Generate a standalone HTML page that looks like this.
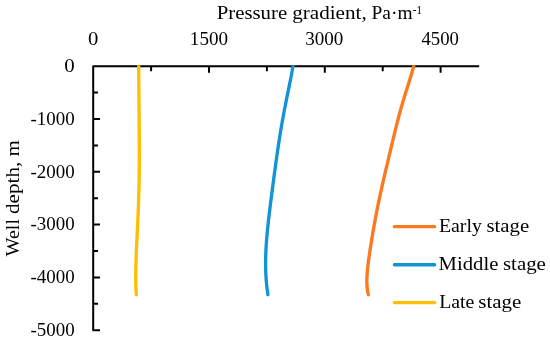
<!DOCTYPE html>
<html><head><meta charset="utf-8"><title>Pressure gradient chart</title>
<style>html,body{margin:0;padding:0;background:#fff;}body{width:550px;height:341px;overflow:hidden;}svg{display:block;}</style>
</head><body>
<svg width="550" height="341" viewBox="0 0 550 341">
<defs><clipPath id="pa"><rect x="80" y="65.2" width="460" height="276"/></clipPath></defs>
<path d="M479.20 66.30 H93.20 V330.20 H100.00 M151.10 66.20 V71.20 M209.00 66.20 V72.70 M266.90 66.20 V71.20 M324.80 66.20 V72.70 M382.70 66.20 V71.20 M440.60 66.20 V72.70 M93.20 92.60 H98.00 M93.20 119.00 H100.00 M93.20 145.40 H98.00 M93.20 171.80 H100.00 M93.20 198.20 H98.00 M93.20 224.60 H100.00 M93.20 251.00 H98.00 M93.20 277.40 H100.00 M93.20 303.80 H98.00" fill="none" stroke="#000" stroke-width="2.00" stroke-linecap="butt" stroke-linejoin="round"/>
<g clip-path="url(#pa)" fill="none" stroke-width="3.35" stroke-linecap="round" stroke-linejoin="round">
<path d="M138.67 62.00 C138.68 62.70 138.70 65.00 138.70 66.20 C138.71 67.40 138.72 68.20 138.73 69.20 C138.73 70.20 138.74 71.20 138.75 72.20 C138.75 73.20 138.76 74.20 138.77 75.20 C138.78 76.20 138.78 77.20 138.79 78.20 C138.80 79.20 138.80 80.20 138.81 81.20 C138.82 82.20 138.82 83.20 138.83 84.20 C138.84 85.20 138.84 86.20 138.85 87.20 C138.86 88.20 138.87 89.20 138.87 90.20 C138.88 91.20 138.89 92.20 138.90 93.20 C138.90 94.20 138.91 95.20 138.92 96.20 C138.93 97.20 138.94 98.20 138.94 99.20 C138.95 100.20 138.96 101.20 138.97 102.20 C138.98 103.20 138.99 104.20 139.00 105.20 C139.01 106.20 139.01 107.20 139.02 108.20 C139.03 109.20 139.04 110.20 139.05 111.20 C139.06 112.20 139.07 113.20 139.08 114.20 C139.09 115.20 139.10 116.20 139.11 117.20 C139.12 118.20 139.13 119.20 139.14 120.20 C139.14 121.20 139.15 122.20 139.16 123.20 C139.17 124.20 139.18 125.20 139.19 126.20 C139.20 127.20 139.21 128.20 139.21 129.20 C139.22 130.20 139.23 131.20 139.24 132.20 C139.25 133.20 139.25 134.20 139.26 135.20 C139.27 136.20 139.27 137.20 139.28 138.20 C139.29 139.20 139.29 140.20 139.30 141.20 C139.30 142.20 139.31 143.20 139.31 144.20 C139.32 145.20 139.32 146.20 139.32 147.20 C139.32 148.20 139.33 149.20 139.33 150.20 C139.33 151.20 139.33 152.20 139.33 153.20 C139.33 154.20 139.33 155.20 139.33 156.20 C139.33 157.20 139.33 158.20 139.32 159.20 C139.32 160.20 139.32 161.20 139.31 162.20 C139.31 163.20 139.30 164.20 139.29 165.20 C139.29 166.20 139.28 167.20 139.27 168.20 C139.26 169.20 139.25 170.20 139.24 171.20 C139.23 172.20 139.22 173.20 139.21 174.20 C139.19 175.20 139.18 176.20 139.16 177.20 C139.15 178.20 139.13 179.20 139.12 180.20 C139.10 181.20 139.08 182.20 139.06 183.20 C139.04 184.20 139.02 185.20 139.00 186.20 C138.98 187.20 138.95 188.20 138.93 189.20 C138.91 190.20 138.88 191.20 138.85 192.20 C138.83 193.20 138.80 194.20 138.77 195.20 C138.74 196.20 138.71 197.20 138.68 198.20 C138.65 199.20 138.62 200.20 138.58 201.20 C138.55 202.20 138.52 203.20 138.48 204.20 C138.44 205.20 138.41 206.20 138.37 207.20 C138.33 208.20 138.29 209.20 138.26 210.20 C138.22 211.20 138.18 212.20 138.13 213.20 C138.09 214.20 138.05 215.20 138.01 216.20 C137.97 217.20 137.92 218.20 137.88 219.20 C137.83 220.20 137.79 221.20 137.74 222.20 C137.70 223.20 137.65 224.20 137.60 225.20 C137.56 226.20 137.51 227.20 137.46 228.20 C137.42 229.20 137.37 230.20 137.32 231.20 C137.27 232.20 137.22 233.20 137.18 234.20 C137.13 235.20 137.08 236.20 137.03 237.20 C136.98 238.20 136.94 239.20 136.89 240.20 C136.84 241.20 136.79 242.20 136.75 243.20 C136.70 244.20 136.66 245.20 136.61 246.20 C136.57 247.20 136.52 248.20 136.48 249.20 C136.44 250.20 136.39 251.20 136.35 252.20 C136.31 253.20 136.27 254.20 136.23 255.20 C136.20 256.20 136.16 257.20 136.12 258.20 C136.09 259.20 136.06 260.20 136.03 261.20 C136.00 262.20 135.97 263.20 135.94 264.20 C135.91 265.20 135.89 266.20 135.87 267.20 C135.85 268.20 135.83 269.20 135.82 270.20 C135.80 271.20 135.79 272.20 135.78 273.20 C135.77 274.20 135.77 275.20 135.77 276.20 C135.77 277.20 135.77 278.20 135.78 279.20 C135.79 280.20 135.80 281.20 135.82 282.20 C135.83 283.20 135.86 284.20 135.88 285.20 C135.91 286.20 135.94 287.20 135.98 288.20 C136.02 289.20 136.06 290.20 136.11 291.20 C136.16 292.20 136.25 293.62 136.28 294.20 C136.31 294.78 136.31 294.62 136.31 294.70" stroke="#ffbe00"/>
<path d="M293.60 62.00 C293.48 62.70 293.11 65.00 292.92 66.20 C292.72 67.40 292.60 68.20 292.43 69.20 C292.26 70.20 292.09 71.20 291.91 72.20 C291.73 73.20 291.55 74.20 291.36 75.20 C291.18 76.20 290.98 77.20 290.79 78.20 C290.60 79.20 290.40 80.20 290.20 81.20 C290.00 82.20 289.80 83.20 289.60 84.20 C289.40 85.20 289.20 86.20 288.99 87.20 C288.79 88.20 288.58 89.20 288.38 90.20 C288.17 91.20 287.97 92.20 287.76 93.20 C287.56 94.20 287.35 95.20 287.15 96.20 C286.95 97.20 286.74 98.20 286.54 99.20 C286.34 100.20 286.13 101.20 285.93 102.20 C285.73 103.20 285.54 104.20 285.34 105.20 C285.14 106.20 284.94 107.20 284.75 108.20 C284.55 109.20 284.36 110.20 284.17 111.20 C283.98 112.20 283.79 113.20 283.60 114.20 C283.42 115.20 283.23 116.20 283.05 117.20 C282.86 118.20 282.68 119.20 282.50 120.20 C282.32 121.20 282.15 122.20 281.97 123.20 C281.80 124.20 281.62 125.20 281.45 126.20 C281.28 127.20 281.11 128.20 280.94 129.20 C280.77 130.20 280.61 131.20 280.44 132.20 C280.28 133.20 280.12 134.20 279.96 135.20 C279.80 136.20 279.64 137.20 279.48 138.20 C279.32 139.20 279.17 140.20 279.01 141.20 C278.86 142.20 278.71 143.20 278.56 144.20 C278.41 145.20 278.26 146.20 278.11 147.20 C277.96 148.20 277.81 149.20 277.67 150.20 C277.52 151.20 277.38 152.20 277.23 153.20 C277.09 154.20 276.95 155.20 276.81 156.20 C276.67 157.20 276.53 158.20 276.39 159.20 C276.25 160.20 276.11 161.20 275.97 162.20 C275.83 163.20 275.69 164.20 275.56 165.20 C275.42 166.20 275.28 167.20 275.15 168.20 C275.01 169.20 274.88 170.20 274.74 171.20 C274.61 172.20 274.48 173.20 274.34 174.20 C274.21 175.20 274.07 176.20 273.94 177.20 C273.81 178.20 273.68 179.20 273.54 180.20 C273.41 181.20 273.28 182.20 273.15 183.20 C273.02 184.20 272.88 185.20 272.75 186.20 C272.62 187.20 272.49 188.20 272.36 189.20 C272.23 190.20 272.10 191.20 271.97 192.20 C271.84 193.20 271.71 194.20 271.58 195.20 C271.45 196.20 271.33 197.20 271.20 198.20 C271.07 199.20 270.94 200.20 270.82 201.20 C270.69 202.20 270.56 203.20 270.44 204.20 C270.31 205.20 270.19 206.20 270.06 207.20 C269.94 208.20 269.82 209.20 269.70 210.20 C269.57 211.20 269.45 212.20 269.33 213.20 C269.21 214.20 269.10 215.20 268.98 216.20 C268.86 217.20 268.75 218.20 268.63 219.20 C268.52 220.20 268.41 221.20 268.30 222.20 C268.19 223.20 268.08 224.20 267.97 225.20 C267.87 226.20 267.76 227.20 267.66 228.20 C267.56 229.20 267.46 230.20 267.36 231.20 C267.27 232.20 267.17 233.20 267.08 234.20 C266.99 235.20 266.91 236.20 266.82 237.20 C266.74 238.20 266.66 239.20 266.58 240.20 C266.50 241.20 266.43 242.20 266.36 243.20 C266.29 244.20 266.22 245.20 266.16 246.20 C266.10 247.20 266.05 248.20 265.99 249.20 C265.94 250.20 265.89 251.20 265.85 252.20 C265.81 253.20 265.77 254.20 265.74 255.20 C265.71 256.20 265.68 257.20 265.66 258.20 C265.64 259.20 265.62 260.20 265.61 261.20 C265.61 262.20 265.60 263.20 265.60 264.20 C265.61 265.20 265.62 266.20 265.63 267.20 C265.65 268.20 265.67 269.20 265.70 270.20 C265.73 271.20 265.77 272.20 265.81 273.20 C265.86 274.20 265.91 275.20 265.97 276.20 C266.02 277.20 266.09 278.20 266.16 279.20 C266.24 280.20 266.32 281.20 266.41 282.20 C266.50 283.20 266.59 284.20 266.70 285.20 C266.80 286.20 266.92 287.20 267.04 288.20 C267.16 289.20 267.29 290.20 267.43 291.20 C267.56 292.20 267.78 293.62 267.86 294.20 C267.95 294.78 267.93 294.62 267.94 294.70" stroke="#1394d6"/>
<path d="M414.76 62.00 C414.57 62.73 413.94 65.17 413.62 66.40 C413.30 67.63 413.11 68.40 412.84 69.40 C412.57 70.40 412.28 71.40 411.99 72.40 C411.70 73.40 411.40 74.40 411.10 75.40 C410.79 76.40 410.48 77.40 410.17 78.40 C409.86 79.40 409.54 80.40 409.23 81.40 C408.91 82.40 408.59 83.40 408.27 84.40 C407.95 85.40 407.63 86.40 407.32 87.40 C407.00 88.40 406.68 89.40 406.37 90.40 C406.05 91.40 405.74 92.40 405.43 93.40 C405.12 94.40 404.81 95.40 404.51 96.40 C404.20 97.40 403.90 98.40 403.60 99.40 C403.30 100.40 403.00 101.40 402.71 102.40 C402.42 103.40 402.13 104.40 401.84 105.40 C401.56 106.40 401.27 107.40 400.99 108.40 C400.71 109.40 400.44 110.40 400.16 111.40 C399.89 112.40 399.62 113.40 399.35 114.40 C399.08 115.40 398.82 116.40 398.56 117.40 C398.29 118.40 398.03 119.40 397.78 120.40 C397.52 121.40 397.26 122.40 397.01 123.40 C396.75 124.40 396.50 125.40 396.25 126.40 C396.00 127.40 395.75 128.40 395.51 129.40 C395.26 130.40 395.01 131.40 394.77 132.40 C394.52 133.40 394.28 134.40 394.04 135.40 C393.79 136.40 393.55 137.40 393.31 138.40 C393.07 139.40 392.83 140.40 392.59 141.40 C392.35 142.40 392.11 143.40 391.87 144.40 C391.63 145.40 391.39 146.40 391.15 147.40 C390.91 148.40 390.67 149.40 390.43 150.40 C390.20 151.40 389.96 152.40 389.72 153.40 C389.48 154.40 389.24 155.40 389.01 156.40 C388.77 157.40 388.53 158.40 388.29 159.40 C388.06 160.40 387.82 161.40 387.58 162.40 C387.35 163.40 387.11 164.40 386.87 165.40 C386.64 166.40 386.40 167.40 386.16 168.40 C385.93 169.40 385.69 170.40 385.46 171.40 C385.23 172.40 384.99 173.40 384.76 174.40 C384.53 175.40 384.29 176.40 384.06 177.40 C383.83 178.40 383.60 179.40 383.37 180.40 C383.14 181.40 382.91 182.40 382.69 183.40 C382.46 184.40 382.23 185.40 382.01 186.40 C381.78 187.40 381.56 188.40 381.34 189.40 C381.12 190.40 380.90 191.40 380.68 192.40 C380.46 193.40 380.24 194.40 380.03 195.40 C379.81 196.40 379.60 197.40 379.39 198.40 C379.18 199.40 378.97 200.40 378.76 201.40 C378.55 202.40 378.34 203.40 378.14 204.40 C377.94 205.40 377.73 206.40 377.53 207.40 C377.33 208.40 377.14 209.40 376.94 210.40 C376.74 211.40 376.55 212.40 376.36 213.40 C376.16 214.40 375.97 215.40 375.78 216.40 C375.60 217.40 375.41 218.40 375.22 219.40 C375.04 220.40 374.86 221.40 374.67 222.40 C374.49 223.40 374.31 224.40 374.14 225.40 C373.96 226.40 373.78 227.40 373.61 228.40 C373.43 229.40 373.26 230.40 373.09 231.40 C372.91 232.40 372.74 233.40 372.58 234.40 C372.41 235.40 372.24 236.40 372.07 237.40 C371.91 238.40 371.74 239.40 371.58 240.40 C371.42 241.40 371.25 242.40 371.09 243.40 C370.93 244.40 370.77 245.40 370.62 246.40 C370.46 247.40 370.30 248.40 370.15 249.40 C370.00 250.40 369.84 251.40 369.69 252.40 C369.55 253.40 369.40 254.40 369.25 255.40 C369.11 256.40 368.97 257.40 368.83 258.40 C368.69 259.40 368.56 260.40 368.43 261.40 C368.30 262.40 368.17 263.40 368.05 264.40 C367.93 265.40 367.81 266.40 367.71 267.40 C367.60 268.40 367.50 269.40 367.41 270.40 C367.32 271.40 367.23 272.40 367.16 273.40 C367.09 274.40 367.03 275.40 366.98 276.40 C366.93 277.40 366.89 278.40 366.88 279.40 C366.86 280.40 366.85 281.40 366.87 282.40 C366.89 283.40 366.92 284.40 366.99 285.40 C367.05 286.40 367.13 287.40 367.24 288.40 C367.36 289.40 367.49 290.40 367.67 291.40 C367.84 292.40 368.17 293.83 368.29 294.40 C368.42 294.97 368.38 294.73 368.39 294.80" stroke="#fd7920"/>
</g>
<path d="M394.4 226.60 H434.6" stroke="#fd7920" stroke-width="3.35" stroke-linecap="round"/>
<path d="M394.4 264.70 H434.6" stroke="#1394d6" stroke-width="3.35" stroke-linecap="round"/>
<path d="M394.4 302.60 H434.6" stroke="#ffbe00" stroke-width="3.35" stroke-linecap="round"/>
<g font-family="Liberation Serif, serif" fill="#000">
<text x="88.02" y="45.00" font-size="19.50" textLength="10.35" lengthAdjust="spacingAndGlyphs">0</text>
<text x="189.83" y="45.00" font-size="19.50" textLength="38.19" lengthAdjust="spacingAndGlyphs">1500</text>
<text x="305.29" y="45.00" font-size="19.50" textLength="38.12" lengthAdjust="spacingAndGlyphs">3000</text>
<text x="421.43" y="45.00" font-size="19.50" textLength="37.48" lengthAdjust="spacingAndGlyphs">4500</text>
<text x="64.31" y="71.90" font-size="19.50" textLength="10.47" lengthAdjust="spacingAndGlyphs">0</text>
<text x="30.49" y="124.80" font-size="19.50" textLength="44.23" lengthAdjust="spacingAndGlyphs">-1000</text>
<text x="30.49" y="177.60" font-size="19.50" textLength="44.23" lengthAdjust="spacingAndGlyphs">-2000</text>
<text x="30.49" y="230.40" font-size="19.50" textLength="44.23" lengthAdjust="spacingAndGlyphs">-3000</text>
<text x="30.49" y="283.30" font-size="19.50" textLength="44.23" lengthAdjust="spacingAndGlyphs">-4000</text>
<text x="30.49" y="336.10" font-size="19.50" textLength="44.23" lengthAdjust="spacingAndGlyphs">-5000</text>
<text x="216.73" y="19.30" font-size="19.50" textLength="70.46" lengthAdjust="spacingAndGlyphs">Pressure</text>
<text x="292.20" y="19.30" font-size="19.50" textLength="74.50" lengthAdjust="spacingAndGlyphs">gradient,</text>
<text x="371.47" y="19.30" font-size="19.50" textLength="41.04" lengthAdjust="spacingAndGlyphs">Pa·m</text>
<text x="412.79" y="14.30" font-size="13.50" textLength="9.07" lengthAdjust="spacingAndGlyphs">-1</text>
<text transform="translate(19.00 256.40) rotate(-90)" font-size="19.50" textLength="37.42" lengthAdjust="spacingAndGlyphs">Well</text>
<text transform="translate(19.00 213.94) rotate(-90)" font-size="19.50" textLength="73.85" lengthAdjust="spacingAndGlyphs">depth, m</text>
<text x="438.96" y="232.10" font-size="19.50" textLength="42.91" lengthAdjust="spacingAndGlyphs">Early</text>
<text x="486.47" y="232.10" font-size="19.50" textLength="42.76" lengthAdjust="spacingAndGlyphs">stage</text>
<text x="438.63" y="269.80" font-size="19.50" textLength="59.77" lengthAdjust="spacingAndGlyphs">Middle</text>
<text x="502.96" y="269.80" font-size="19.50" textLength="42.96" lengthAdjust="spacingAndGlyphs">stage</text>
<text x="439.26" y="307.70" font-size="19.50" textLength="35.11" lengthAdjust="spacingAndGlyphs">Late</text>
<text x="478.36" y="307.70" font-size="19.50" textLength="42.96" lengthAdjust="spacingAndGlyphs">stage</text>
</g>
</svg>
</body></html>
